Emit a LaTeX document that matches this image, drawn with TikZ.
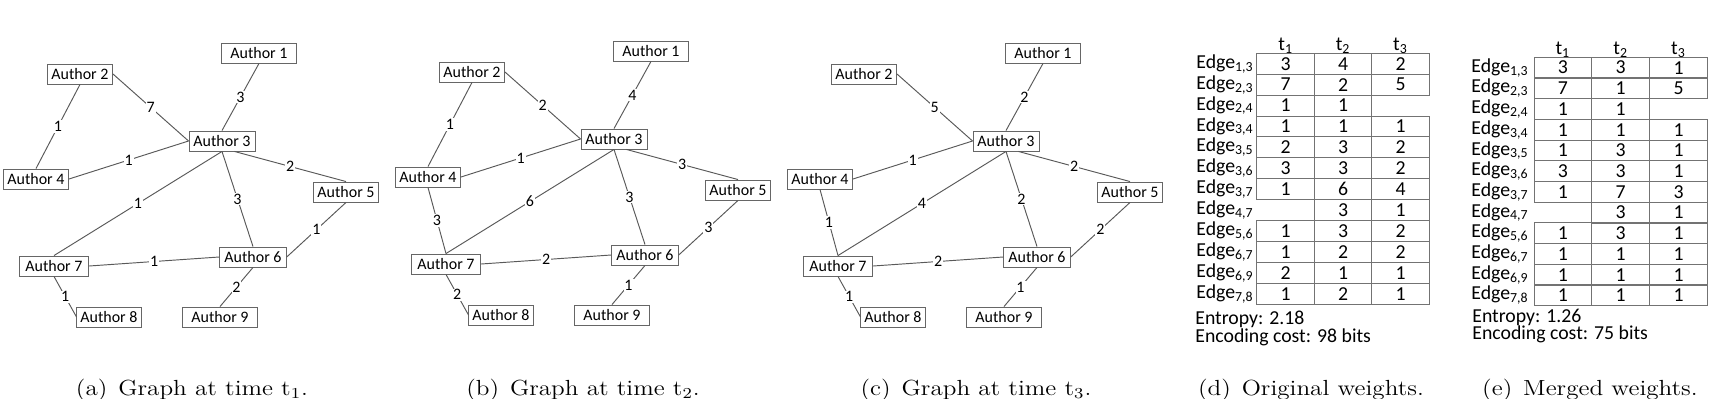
\documentclass[tikz,border=0pt]{standalone}
\usepackage{fontspec}
\newfontfamily\calibri{Carlito}
\usetikzlibrary{positioning}

\tikzstyle{author} = [rectangle, draw=black!60, line width=0.5pt, minimum height=10.5pt, inner sep=0pt, font=\calibri\fontsize{8.4}{10}\selectfont]
\tikzstyle{weight} = [fill=white, inner sep=0.5pt, font=\calibri\fontsize{8.4}{10}\selectfont]
\tikzstyle{line} = [draw=black!65, line width=0.5pt]
\tikzstyle{cell} = [rectangle, draw=black!55, line width=0.5pt, minimum width=30.3pt, minimum height=11pt, inner sep=0pt, font=\calibri\fontsize{10.4}{12}\selectfont]
\tikzstyle{tabtext} = [inner sep=0pt, font=\calibri\fontsize{10.4}{12}\selectfont]
\tikzstyle{caption} = [inner sep=0pt, anchor=base, font=\fontsize{11.5}{13}\selectfont]
\newcommand{\subcap}[1]{\scalebox{1.15}[1]{#1}}

\begin{document}
\begin{tikzpicture}[x=0.526pt, y=-0.526pt]
\useasboundingbox (0,0) rectangle (1716,399);

% Authors, same layout at t1, t2, t3
\foreach \g/\dx/\dy in {a/0/0, b/392/-2, c/784/0} {
  \foreach \n/\x/\y/\w in {1/259/53/39.5, 2/80/74/34.2, 3/222/141/34.7, 4/36/179/34.2, 5/346/192/33.7, 6/253/257/35, 7/54/266/36.5, 8/109/317/33.7, 9/220/317/39.8} {
    \node (\g\n) [author, minimum width=\w pt] at ({\x+\dx},{\y+\dy}) {Author \n};
  }
}

% Edges: weights at t1, t2, t3, then merged weights
\foreach \src/\sa/\dst/\da/\wa/\wb/\wc/\ma/\mb/\mc [count=\r] in {
  1/south/3/north/3/4/2/3/3/1,
  2/east/3/west/7/2/5/7/1/5,
  2/south/4/north/1/1/-/1/1/-,
  3/west/4/east/1/1/1/1/1/1,
  3/-40/5/north/2/3/2/1/3/1,
  3/south/6/north/3/3/2/3/3/1,
  3/south/7/north/1/6/4/1/7/3,
  4/south/7/north/-/3/1/-/3/1,
  5/south/6/east/1/3/2/1/3/1,
  6/west/7/east/1/2/2/1/1/1,
  6/south/9/north/2/1/1/1/1/1,
  7/south/8/west/1/2/1/1/1/1} {
  \foreach \g/\w in {a/\wa, b/\wb, c/\wc}
    {\if\w-\else \draw[line] (\g\src.\sa) -- node[weight] {\w} (\g\dst.\da); \fi}
  % original weights
  \node (d-\r-h) [tabtext, anchor=east] at (1254, {53.3+(\r-0.5)*20.9}) {Edge\textsubscript{\src,\dst}};
  \foreach \v [count=\c] in {\wa,\wb,\wc}
    {\if\v-\else \node (d-\r-\c) [cell] at ({1257+(\c-0.5)*57.4}, {53.3+(\r-0.5)*20.9}) {\v}; \fi}
  % merged weights
  \node (e-\r-h) [tabtext, anchor=east] at (1529, {57.3+(\r-0.5)*20.7}) {Edge\textsubscript{\src,\dst}};
  \foreach \v [count=\c] in {\ma,\mb,\mc}
    {\if\v-\else \node (e-\r-\c) [cell] at ({1534+(\c-0.5)*57.8}, {57.3+(\r-0.5)*20.7}) {\v}; \fi}
}

\foreach \c in {1,2,3} {
  \node (dt\c) [tabtext] at ({1257+(\c-0.5)*57.4}, 46) {t\textsubscript{\c}};
  \node (et\c) [tabtext] at ({1534+(\c-0.5)*57.8}, 50) {t\textsubscript{\c}};
}

\node (dent) [tabtext, anchor=west] at (1195,319) {Entropy: 2.18};
\node (dcost) [tabtext, anchor=west] at (1195,337) {Encoding cost: 98 bits};
\node (eent) [tabtext, anchor=west] at (1472,317) {Entropy: 1.26};
\node (ecost) [tabtext, anchor=west] at (1472,334) {Encoding cost: 75 bits};

% Sub-captions
\node (capa) [caption] at (192,395) {\subcap{(a)\hspace{5pt}Graph at time $\mathrm{t}_1$.}};
\node (capb) [caption] at (583,395) {\subcap{(b)\hspace{5pt}Graph at time $\mathrm{t}_2$.}};
\node (capc) [caption] at (976,395) {\subcap{(c)\hspace{5pt}Graph at time $\mathrm{t}_3$.}};
\node (capd) [caption] at (1311,395) {\subcap{(d)\hspace{5pt}Original weights.}};
\node (cape) [caption] at (1590,395) {\subcap{(e)\hspace{5pt}Merged weights.}};

\end{tikzpicture}
\end{document}
